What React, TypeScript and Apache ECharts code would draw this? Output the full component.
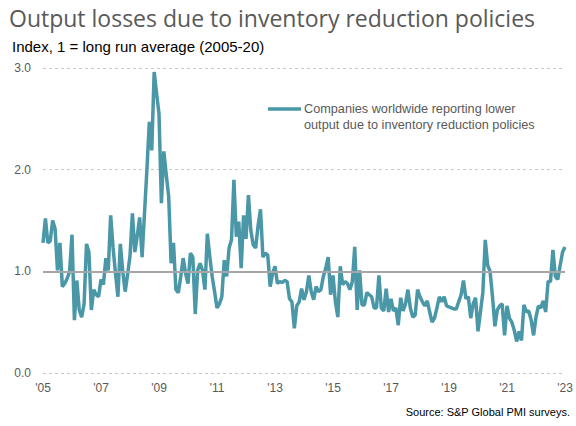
import * as echarts from "echarts";
import { useEffect, useRef } from "react";

const title = "Output losses due to inventory reduction policies";
const subtitle = "Index, 1 = long run average (2005-20)";
const seriesName =
	"Companies worldwide reporting lower\noutput due to inventory reduction policies";
const source = "Source: S&P Global PMI surveys.";

// monthly, Jan 2005 .. Jan 2023
const months: string[] = [];
for (let y = 2005; y <= 2023; y++) {
	for (let m = 1; m <= 12; m++) {
		if (months.length < 217) months.push(`${y}-${String(m).padStart(2, "0")}`);
	}
}

const outputLosses = [
	1.28, 1.52, 1.28, 1.3, 1.5, 1.42, 1.01, 1.28, 0.85, 0.88, 0.93, 1.0,
	1.36, 0.52, 0.91, 0.62, 0.55, 0.68, 1.27, 1.19, 0.62, 0.82, 0.77, 0.75,
	0.92, 0.87, 1.13, 1.01, 1.55, 1.23, 0.98, 0.75, 1.27, 1.0, 0.8, 0.97,
	1.15, 1.57, 1.19, 1.35, 1.53, 1.14, 1.57, 2.0, 2.47, 2.19, 2.96, 2.75,
	2.55, 1.67, 2.18, 1.95, 1.74, 1.08, 1.28, 0.82, 0.79, 0.95, 1.13, 0.98,
	0.88, 1.18, 1.14, 0.58, 1.01, 1.08, 1.01, 0.82, 1.37, 1.15, 0.95, 0.8,
	0.64, 0.68, 0.75, 1.11, 0.95, 1.23, 1.31, 1.9, 1.34, 1.49, 1.03, 1.55,
	1.32, 1.75, 1.4, 1.26, 1.23, 1.45, 1.61, 1.14, 1.18, 1.16, 0.85, 0.98,
	1.05, 0.88, 0.9, 0.89, 0.91, 0.9, 0.73, 0.7, 0.44, 0.66, 0.7, 0.83,
	0.72, 0.8, 0.96, 0.8, 0.72, 0.85, 0.8, 0.82, 0.95, 1.03, 1.14, 0.77,
	0.96, 0.7, 0.55, 1.05, 0.87, 0.9, 0.88, 0.82, 0.9, 1.24, 0.62, 1.01,
	0.67, 0.67, 0.79, 0.77, 0.75, 0.64, 0.64, 0.96, 0.64, 0.61, 0.83, 0.6,
	0.73, 0.61, 0.64, 0.47, 0.74, 0.61, 0.68, 0.82, 0.64, 0.55, 0.57, 0.82,
	0.75, 0.7, 0.66, 0.71, 0.6, 0.5, 0.54, 0.64, 0.75, 0.7, 0.75, 0.66,
	0.65, 0.64, 0.63, 0.63, 0.7, 0.77, 0.91, 0.73, 0.75, 0.54, 0.68, 0.74,
	0.41, 0.6, 0.79, 1.31, 1.06, 1.0, 0.75, 0.46, 0.62, 0.66, 0.68, 0.37,
	0.66, 0.54, 0.5, 0.42, 0.31, 0.41, 0.32, 0.67, 0.6, 0.61, 0.52, 0.37,
	0.55, 0.66, 0.64, 0.71, 0.6, 0.9, 0.9, 1.21, 0.95, 0.92, 1.06, 1.19,
	1.24,
];

const teal = "#4a97a8";
const grey = "#595959";

export default function App() {
	const chartRef = useRef<HTMLDivElement>(null);

	useEffect(() => {
		if (!chartRef.current) return;
		document.body.style.margin = "0";
		const chart = echarts.init(chartRef.current, null, { renderer: "svg" });
		chart.setOption({
			animation: false,
			title: {
				text: title,
				left: 4,
				top: 1,
				textStyle: {
					fontFamily: "Open Sans",
					fontSize: 23,
					fontWeight: "normal",
					color: grey,
				},
			},
			grid: { left: 43, right: 11, top: 68, bottom: 53 },
			xAxis: {
				type: "category",
				data: months,
				boundaryGap: false,
				axisLine: { show: false },
				axisTick: { show: false },
				axisLabel: {
					interval: (i: number) => i % 24 === 0,
					formatter: (v: string) => "'" + v.slice(2, 4),
					color: grey,
					fontSize: 12,
					fontFamily: "Liberation Sans",
					margin: 9,
				},
			},
			yAxis: {
				type: "value",
				min: 0,
				max: 3,
				interval: 1,
				axisLabel: {
					formatter: (v: number) => v.toFixed(1),
					color: grey,
					fontSize: 12,
					fontFamily: "Liberation Sans",
					margin: 12,
				},
				splitLine: {
					lineStyle: { color: "#c8c8c8", type: [3, 3], width: 1 },
				},
			},
			series: [
				{
					type: "line",
					data: [],
					z: 1,
					silent: true,
					markLine: {
						silent: true,
						symbol: "none",
						label: { show: false },
						lineStyle: { color: "#a6a6a6", type: "solid", width: 2 },
						data: [{ yAxis: 1 }],
					},
				},
				{
					name: seriesName,
					type: "line",
					data: outputLosses,
					z: 2,
					showSymbol: false,
					lineStyle: { color: teal, width: 3.5 },
					itemStyle: { color: teal },
				},
			],
			graphic: [
				{
					type: "text",
					left: 12,
					top: 39,
					style: {
						text: subtitle,
						fontFamily: "Liberation Sans",
						fontSize: 15,
						fill: "#000",
					},
				},
				{
					type: "line",
					shape: { x1: 268, y1: 109, x2: 301, y2: 109 },
					style: { stroke: teal, lineWidth: 3.5 },
				},
				{
					type: "text",
					x: 304,
					y: 101,
					style: {
						text: seriesName,
						fontFamily: "Liberation Sans",
						fontSize: 12.7,
						lineHeight: 16,
						fill: grey,
					},
				},
				{
					type: "text",
					x: 570,
					y: 412,
					style: {
						text: source,
						fontFamily: "Liberation Sans",
						fontSize: 11,
						fill: "#000",
						align: "right",
						verticalAlign: "middle",
					},
				},
			],
		});
		return () => chart.dispose();
	}, []);

	return <div ref={chartRef} style={{ width: 576, height: 426 }} />;
}
